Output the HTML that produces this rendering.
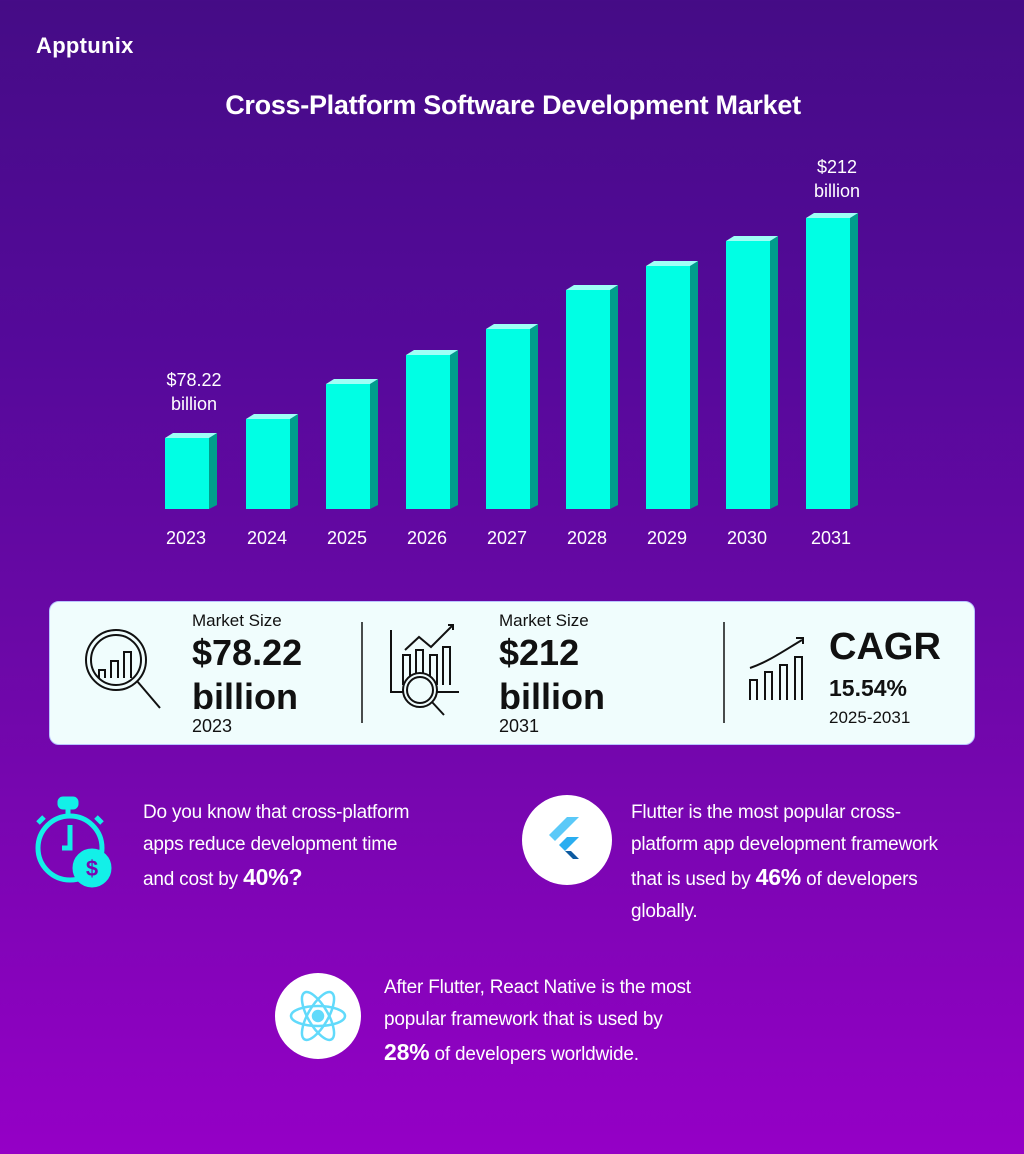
<!DOCTYPE html>
<html><head><meta charset="utf-8"><style>
*{margin:0;padding:0;box-sizing:border-box}
body{width:1024px;height:1154px;overflow:hidden;font-family:"Liberation Sans",sans-serif;background:linear-gradient(180deg,#450c86 0%,#55099a 30%,#6a08a6 55%,#7d05b4 75%,#9500c6 100%);position:relative;color:#fff}
.a{position:absolute;white-space:nowrap}
.w{font-size:18px;line-height:24px}
.box{position:absolute;left:49px;top:601px;width:926px;height:144px;background:#f0fdfd;border-radius:10px;border:1.5px solid #b9c4ff}
.k{color:#111}
.q{font-size:19px;line-height:32px;letter-spacing:-0.2px}
</style></head><body>
<div class="a" style="left:36px;top:33px;font-size:22px;font-weight:bold;letter-spacing:0.3px">Apptunix</div>
<div class="a" style="left:0;width:1026px;text-align:center;top:90px;font-size:27px;font-weight:bold;letter-spacing:-0.3px">Cross-Platform Software Development Market</div>
<svg class="a" style="left:0;top:0" width="1024" height="560">
<g>
<rect x="165" y="438" width="44" height="71" fill="#00ffe4"/><polygon points="209,438 217,433 217,505 209,509" fill="#009e8c"/><polygon points="165,438 173,433 217,433 209,438" fill="#9ffff6"/>
<rect x="246" y="419" width="44" height="90" fill="#00ffe4"/><polygon points="290,419 298,414 298,505 290,509" fill="#009e8c"/><polygon points="246,419 254,414 298,414 290,419" fill="#9ffff6"/>
<rect x="326" y="384" width="44" height="125" fill="#00ffe4"/><polygon points="370,384 378,379 378,505 370,509" fill="#009e8c"/><polygon points="326,384 334,379 378,379 370,384" fill="#9ffff6"/>
<rect x="406" y="355" width="44" height="154" fill="#00ffe4"/><polygon points="450,355 458,350 458,505 450,509" fill="#009e8c"/><polygon points="406,355 414,350 458,350 450,355" fill="#9ffff6"/>
<rect x="486" y="329" width="44" height="180" fill="#00ffe4"/><polygon points="530,329 538,324 538,505 530,509" fill="#009e8c"/><polygon points="486,329 494,324 538,324 530,329" fill="#9ffff6"/>
<rect x="566" y="290" width="44" height="219" fill="#00ffe4"/><polygon points="610,290 618,285 618,505 610,509" fill="#009e8c"/><polygon points="566,290 574,285 618,285 610,290" fill="#9ffff6"/>
<rect x="646" y="266" width="44" height="243" fill="#00ffe4"/><polygon points="690,266 698,261 698,505 690,509" fill="#009e8c"/><polygon points="646,266 654,261 698,261 690,266" fill="#9ffff6"/>
<rect x="726" y="241" width="44" height="268" fill="#00ffe4"/><polygon points="770,241 778,236 778,505 770,509" fill="#009e8c"/><polygon points="726,241 734,236 778,236 770,241" fill="#9ffff6"/>
<rect x="806" y="218" width="44" height="291" fill="#00ffe4"/><polygon points="850,218 858,213 858,505 850,509" fill="#009e8c"/><polygon points="806,218 814,213 858,213 850,218" fill="#9ffff6"/>
</g>
</svg>
<div class="a w" style="left:164px;top:368px;text-align:center;width:60px">$78.22<br>billion</div>
<div class="a w" style="left:807px;top:155px;text-align:center;width:60px">$212<br>billion</div>
<div class="a" style="left:0;top:528px;font-size:18px">
<span class="a" style="left:166px">2023</span><span class="a" style="left:247px">2024</span><span class="a" style="left:327px">2025</span><span class="a" style="left:407px">2026</span><span class="a" style="left:487px">2027</span><span class="a" style="left:567px">2028</span><span class="a" style="left:647px">2029</span><span class="a" style="left:727px">2030</span><span class="a" style="left:811px">2031</span></div>
<div class="box"></div>
<svg class="a" style="left:0;top:590px" width="1024" height="170" fill="none" stroke="#111" stroke-width="2">
<circle cx="116" cy="70" r="30"/><circle cx="116" cy="70" r="25"/>
<path d="M137 91 L160 118 M99 88v-8h6v8 M111 88v-17h7v17 M124 88v-26h7v26"/>
<path d="M391 40v62h68 M403 95v-30h7v30 M416 95v-35h7v35 M430 95v-30h7v30 M443 95v-38h7v38 M405 60l14-13 12 10 22-22 M448 35h5v5"/>
<circle cx="420" cy="100" r="17" fill="#f0fdfd"/><circle cx="420" cy="100" r="13"/><path d="M432 112l12 13"/>
<path d="M362 32v101 M724 32v101" stroke-width="1.5"/>
<path d="M750 110v-20h7v20 M765 110v-28h7v28 M780 110v-35h7v35 M795 110v-43h7v43 M750 78c18-6 35-18 52-28 M796 48h7v6"/>
</svg>
<div class="a k" style="left:192px;top:611px;font-size:17px">Market Size</div>
<div class="a k" style="left:192px;top:631px;font-size:36px;font-weight:bold;line-height:44px">$78.22<br>billion</div>
<div class="a k" style="left:192px;top:716px;font-size:18px">2023</div>
<div class="a k" style="left:499px;top:611px;font-size:17px">Market Size</div>
<div class="a k" style="left:499px;top:631px;font-size:36px;font-weight:bold;line-height:44px">$212<br>billion</div>
<div class="a k" style="left:499px;top:716px;font-size:18px">2031</div>
<div class="a k" style="left:829px;top:626px;font-size:38px;font-weight:bold">CAGR</div>
<div class="a k" style="left:829px;top:675px;font-size:23px;font-weight:bold">15.54%</div>
<div class="a k" style="left:829px;top:708px;font-size:17px">2025-2031</div>
<svg class="a" style="left:30px;top:795px" width="90" height="95" fill="none" stroke="#13f0e8" stroke-width="5">
<rect x="30" y="4" width="16" height="8" rx="3" fill="#13f0e8"/><path d="M38 12v8"/>
<circle cx="40" cy="53" r="32"/><path d="M40 30v23h-8 M8 28l6-6 M66 22l6 6"/>
<circle cx="62" cy="73" r="17" fill="#13f0e8"/><text x="62" y="81" font-size="22" font-weight="bold" fill="#7a06b0" stroke="none" text-anchor="middle" font-family="Liberation Sans">$</text>
</svg>
<div class="a q" style="left:143px;top:797px">Do you know that cross-platform<br>apps reduce development time<br>and cost by <b style="font-size:23px">40%?</b></div>
<div class="a" style="left:522px;top:795px;width:90px;height:90px;border-radius:50%;background:#fff"></div>
<svg class="a" style="left:547px;top:815px" width="40" height="50"><polygon points="20,2 32,2 8,26 2,20" fill="#5bc9f8"/><polygon points="20,22 32,22 18,36 12,30" fill="#2aaef0"/><polygon points="18,36 26,44 32,44 24,36" fill="#0d5aa0"/></svg>
<div class="a q" style="left:631px;top:797px">Flutter is the most popular cross-<br>platform app development framework<br>that is used by <b style="font-size:23px">46%</b> of developers<br>globally.</div>
<div class="a" style="left:275px;top:973px;width:86px;height:86px;border-radius:50%;background:#fff"></div>
<svg class="a" style="left:288px;top:986px" width="60" height="60" fill="none" stroke="#61dafb" stroke-width="2.5"><ellipse cx="30" cy="30" rx="27" ry="10"/><ellipse cx="30" cy="30" rx="27" ry="10" transform="rotate(60 30 30)"/><ellipse cx="30" cy="30" rx="27" ry="10" transform="rotate(-60 30 30)"/><circle cx="30" cy="30" r="5" fill="#61dafb"/></svg>
<div class="a q" style="left:384px;top:972px">After Flutter, React Native is the most<br>popular framework that is used by<br><b style="font-size:23px">28%</b> of developers worldwide.</div>
</body></html>
